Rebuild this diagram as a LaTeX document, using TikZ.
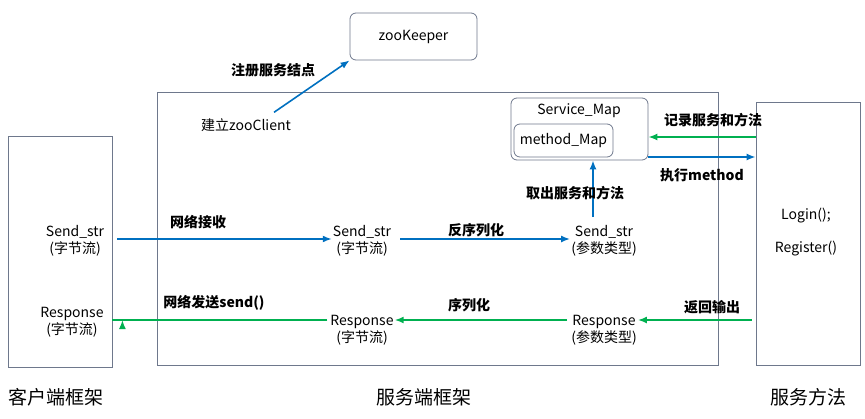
\documentclass[tikz,border=0pt]{standalone}
\usepackage{fontspec}
\setmainfont{Noto Sans CJK SC}
\usetikzlibrary{positioning,arrows.meta}
\definecolor{arrowblue}{RGB}{0,112,192}
\definecolor{arrowgreen}{RGB}{0,176,80}
\definecolor{framegray}{RGB}{110,120,140}
\tikzset{
  frame/.style={draw=framegray, line width=0.8pt},
  txt/.style={align=center, font=\fontsize{14}{17}\selectfont, inner sep=1pt},
  lbl/.style={font=\fontsize{14}{17}\selectfont\bfseries, inner sep=1pt},
  big/.style={font=\fontsize{19}{22}\selectfont, inner sep=1pt},
  req/.style={-{Latex[length=9pt,width=7pt]}, arrowblue, line width=1.6pt},
  res/.style={-{Latex[length=9pt,width=7pt]}, arrowgreen, line width=1.6pt}
}
\begin{document}
\begin{tikzpicture}[x=1pt,y=-1pt]
    \useasboundingbox (0,0) rectangle (865,418);
    % frames
    \node[frame, minimum width=104pt, minimum height=231pt] (client) at (60,251.5) {};
    \node[frame, minimum width=561pt, minimum height=273pt] (server) at (437.5,228.5) {};
    \node[frame, minimum width=104pt, minimum height=263pt] (method) at (808,233.5) {};
    \node[big] (clientlbl) at (56,397) {客户端框架};
    \node[big] (serverlbl) at (424,397) {服务端框架};
    \node[big] (methodlbl) at (808,397) {服务方法};
    % zookeeper
    \node[frame, rounded corners=6pt, minimum width=127pt, minimum height=47pt, txt] (zk) at (413.5,36.5) {zooKeeper};
    \node[txt] (zc) at (246,125) {建立zooClient};
    \draw[req] (zc.north)++(28,-5) coordinate (zcs) -- (zk.south west);
    \node[lbl] at (273,70) {注册服务结点};
    % maps
    \node[frame, rounded corners=6pt, minimum width=137pt, minimum height=62pt] (smap) at (579.5,129) {};
    \node[txt] at (579,111) {Service\_Map};
    \node[frame, rounded corners=6pt, minimum width=99pt, minimum height=33pt, txt] (mmap) at (563.5,140.5) {method\_Map};
    % client side
    \node[txt] (sendL) at (75,241) {Send\_str\\(字节流)};
    \node[txt] (respL) at (72,322) {Response\\(字节流)};
    % server side
    \node[txt] (sendM) at (362,241) {Send\_str\\(字节流)};
    \node[txt] (respM) at (362,330) {Response\\(字节流)};
    \node[txt] (sendP) at (604,241) {Send\_str\\(参数类型)};
    \node[txt] (respP) at (604,330) {Response\\(参数类型)};
    % method side
    \node[txt] (login) at (806,216) {Login();};
    \node[txt] (reg) at (806,249) {Register()};
    % request path
    \draw[req] (sendL.east|-0,239) ++(12,0) -- (sendM.west|-0,239);
    \node[lbl] at (198,222) {网络接收};
    \draw[req] (sendM.east|-0,239) ++(8,0) -- (sendP.west|-0,239);
    \node[lbl] at (476,230) {反序列化};
    \draw[req] (593,217) -- (smap.south-|593,0);
    \node[lbl] at (575,193) {取出服务和方法};
    \draw[res] (method.west|-0,137) -- (smap.east|-0,137);
    \node[lbl] at (713,120) {记录服务和方法};
    \draw[req] (smap.east|-0,157) -- (method.west|-0,157);
    \node[lbl] at (702,175) {执行method};
    % response path
    \draw[res] (method.west|-0,320) ++(-4,0) -- (respP.east|-0,320);
    \node[lbl] at (712,307) {返回输出};
    \draw[res] (respP.west|-0,320) ++(-3,0) -- (respM.east|-0,320);
    \node[lbl] at (469,305) {序列化};
    \draw[res] (respM.west|-0,320) ++(-2,0) -- (client.east|-0,320) ++(10,0);
    \node[lbl] at (214,303) {网络发送send()};
\end{tikzpicture}
\end{document}
